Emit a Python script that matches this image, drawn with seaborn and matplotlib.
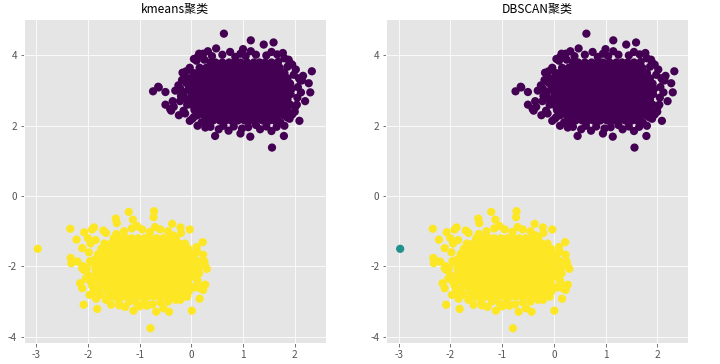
import numpy as np
import pandas as pd
import matplotlib
matplotlib.use("Agg")
import matplotlib.pyplot as plt
import seaborn as sns

# ---- data ----
# upper blob: rows of the dense core (y value, x values along the row)
top_rows_y = [2.15, 2.30, 2.45, 2.60, 2.75, 2.90, 3.05, 3.20, 3.35, 3.50, 3.65, 3.80]
top_rows_x = [
    [0.31, 0.42, 0.55, 0.66, 0.77, 0.90, 1.03, 1.14, 1.25, 1.38, 1.51, 1.61],
    [0.12, 0.25, 0.36, 0.47, 0.60, 0.73, 0.84, 0.95, 1.08, 1.21, 1.32, 1.43, 1.56, 1.69, 1.79],
    [0.06, 0.17, 0.30, 0.43, 0.54, 0.65, 0.78, 0.91, 1.02, 1.13, 1.26, 1.39, 1.50, 1.61, 1.74, 1.86],
    [0.00, 0.13, 0.24, 0.35, 0.48, 0.61, 0.72, 0.83, 0.96, 1.09, 1.20, 1.31, 1.44, 1.57, 1.68, 1.79, 1.91],
    [-0.04, 0.07, 0.18, 0.31, 0.42, 0.53, 0.66, 0.79, 0.90, 1.01, 1.14, 1.27, 1.38, 1.49, 1.62, 1.75, 1.86],
    [0.01, 0.12, 0.23, 0.36, 0.49, 0.60, 0.71, 0.84, 0.97, 1.08, 1.19, 1.32, 1.45, 1.56, 1.67, 1.80, 1.92],
    [-0.05, 0.06, 0.19, 0.30, 0.41, 0.54, 0.67, 0.78, 0.89, 1.02, 1.15, 1.26, 1.37, 1.50, 1.63, 1.74, 1.85, 1.94],
    [0.00, 0.11, 0.24, 0.37, 0.48, 0.59, 0.72, 0.85, 0.96, 1.07, 1.20, 1.33, 1.44, 1.55, 1.68, 1.81, 1.91],
    [-0.02, 0.07, 0.18, 0.29, 0.42, 0.55, 0.66, 0.77, 0.90, 1.03, 1.14, 1.25, 1.38, 1.51, 1.62, 1.73, 1.86],
    [0.04, 0.12, 0.25, 0.36, 0.47, 0.60, 0.73, 0.84, 0.95, 1.08, 1.21, 1.32, 1.43, 1.56, 1.69, 1.80],
    [0.16, 0.29, 0.42, 0.55, 0.66, 0.77, 0.90, 1.03, 1.14, 1.25, 1.38, 1.51, 1.62, 1.71],
    [0.37, 0.47, 0.60, 0.73, 0.84, 0.95, 1.08, 1.21, 1.32, 1.43, 1.55],
]
# upper blob: scattered points around the core
top_edge_x = [0.63, 1.15, 1.59, 1.40, 0.48, 0.15, 0.23, 1.77, 1.66, 1.95, 2.33, -0.17, -0.13,
              2.11, 2.27, 2.30, -0.64, -0.74, -0.50, -0.31, -0.21, -0.50, -0.39, -0.34, -0.15,
              -0.03, 2.09, 2.01, 1.85, 0.27, 0.37, 0.46, 0.53, 0.72, 0.95, 1.14, 1.33, 1.79,
              1.56, 1.66, -0.12, -0.10, 2.05, 2.06, 0.10, 1.86, 0.12, 1.80, 0.60, 0.95, 1.25,
              1.05, 0.40, 0.82, 1.10, 1.45, 1.55, 2.14, -0.63, -0.41,
              0.75, 1.15, 1.45, 0.85, 1.55, 0.05, 1.88, 0.32, 1.00, -0.03, 0.12, 1.90, 1.80,
              2.02, 1.98, -0.14, -0.18, -0.08, -0.10, -0.22, -0.25, 2.04, 2.08, 2.00, 2.12,
              0.62, 0.98, 1.25, 1.65, 0.20, 1.72, 1.90, 0.05, 0.25, 1.68,
              -0.24, -0.12, -0.20, 0.02, -0.36, 2.16, 2.20, 1.95]
top_edge_y = [4.62, 4.43, 4.37, 4.31, 4.20, 4.05, 4.05, 4.07, 4.03, 3.74, 3.55, 3.51, 3.41,
              3.29, 3.21, 2.95, 3.11, 2.98, 2.96, 3.00, 3.05, 2.60, 2.43, 2.54, 2.43,
              2.14, 2.14, 2.54, 2.24, 1.95, 1.97, 1.71, 1.90, 1.86, 1.78, 1.69, 1.90, 1.71,
              1.38, 2.09, 2.78, 3.22, 2.80, 3.10, 3.85, 3.68, 2.00, 2.00, 4.02, 4.05, 4.02,
              3.98, 3.98, 1.98, 1.96, 1.98, 1.85, 3.29, 3.09, 2.48,
              4.10, 4.12, 4.00, 3.96, 4.10, 3.90, 3.88, 4.12, 4.18, 3.65, 3.95, 3.80, 3.92,
              3.60, 3.45, 2.95, 3.30, 2.60, 3.55, 2.70, 3.15, 2.60, 3.35, 2.40, 2.95,
              2.00, 1.92, 2.02, 1.97, 2.10, 2.10, 2.20, 2.25, 3.88, 3.82,
              2.30, 2.35, 2.85, 2.20, 2.70, 3.42, 2.70, 2.32]

# lower blob: rows of the dense core
bottom_rows_y = [-1.20, -1.35, -1.50, -1.65, -1.80, -1.95, -2.10, -2.25, -2.40, -2.55, -2.70, -2.85]
bottom_rows_x = [
    [-1.50, -1.37, -1.26, -1.15, -1.02, -0.89, -0.78, -0.67, -0.54, -0.41, -0.30],
    [-1.68, -1.55, -1.44, -1.33, -1.20, -1.07, -0.96, -0.85, -0.72, -0.59, -0.48, -0.37, -0.24, -0.12],
    [-1.74, -1.63, -1.50, -1.37, -1.26, -1.15, -1.02, -0.89, -0.78, -0.67, -0.54, -0.41, -0.30, -0.19, -0.06],
    [-1.80, -1.67, -1.56, -1.45, -1.32, -1.19, -1.08, -0.97, -0.84, -0.71, -0.60, -0.49, -0.36, -0.23, -0.12, 0.00],
    [-1.86, -1.73, -1.62, -1.51, -1.38, -1.25, -1.14, -1.03, -0.90, -0.77, -0.66, -0.55, -0.42, -0.29, -0.18, -0.07, 0.03],
    [-1.87, -1.80, -1.69, -1.56, -1.43, -1.32, -1.21, -1.08, -0.95, -0.84, -0.73, -0.60, -0.47, -0.36, -0.25, -0.12, 0.00],
    [-1.85, -1.74, -1.63, -1.50, -1.37, -1.26, -1.15, -1.02, -0.89, -0.78, -0.67, -0.54, -0.41, -0.30, -0.19, -0.06, 0.03],
    [-1.86, -1.79, -1.68, -1.57, -1.44, -1.31, -1.20, -1.09, -0.96, -0.83, -0.72, -0.61, -0.48, -0.35, -0.24, -0.13, 0.00],
    [-1.83, -1.74, -1.61, -1.50, -1.39, -1.26, -1.13, -1.02, -0.91, -0.78, -0.65, -0.54, -0.43, -0.30, -0.17, -0.06],
    [-1.68, -1.57, -1.44, -1.31, -1.20, -1.09, -0.96, -0.83, -0.72, -0.61, -0.48, -0.35, -0.24, -0.13, -0.03],
    [-1.62, -1.49, -1.38, -1.27, -1.14, -1.01, -0.90, -0.79, -0.66, -0.53, -0.42, -0.31, -0.18, -0.10],
    [-1.44, -1.31, -1.20, -1.09, -0.96, -0.83, -0.72, -0.61, -0.48, -0.38],
]
# lower blob: scattered points around the core
bottom_edge_x = [-2.34, -2.22, -2.07, -1.92, -1.88, -2.11, -2.33, -2.32, -2.20, -2.11, -2.15,
                 -2.11, -1.95, -2.08, -1.97, -1.82, -1.55, -1.39, -1.12, -1.00, -0.79, -0.68,
                 -0.43, -0.54, -0.21, -0.08, 0.01, 0.16, 0.21, 0.27, 0.23, 0.30, 0.26, 0.25,
                 0.23, 0.22, 0.11, -0.03, -0.21, -0.37, -0.72, -0.73, -1.21, -1.46, -1.44,
                 -1.13, -2.10, -2.08, 0.08, 0.17, -1.98, -2.00, -1.95, -1.65, -0.20, 0.15,
                 0.12, -0.15, -1.20, -0.90, -0.60, -1.65, -0.95, -1.05, -0.60, -1.70, -1.78,
                 -1.90, -1.58,
                 -1.30, -0.80, -0.45, -1.15, -0.70, -1.45, -0.35, -1.96, -2.02, -1.92, -1.85,
                 0.10, 0.12, 0.14, 0.08, 0.06, -1.40, -1.05, -0.75, -0.45, -0.30, -1.75, -0.05,
                 -1.52, -0.28,
                 -2.04, -1.88, -2.00, -1.84, -0.86, -1.28]
bottom_edge_y = [-0.93, -1.24, -1.03, -0.95, -0.89, -1.48, -1.76, -1.91, -1.86, -2.05, -2.48,
                 -2.62, -2.43, -3.09, -2.81, -3.21, -3.09, -3.11, -3.26, -3.14, -3.76, -3.29,
                 -3.29, -3.19, -2.95, -2.86, -3.26, -2.92, -2.57, -2.52, -2.67, -2.07, -1.95, -1.86,
                 -1.67, -1.31, -1.57, -0.95, -0.89, -0.79, -0.43, -0.60, -0.45, -0.64, -0.77,
                 -0.67, -1.99, -2.10, -1.62, -2.62, -1.60, -2.25, -1.35, -1.05, -1.05, -2.20,
                 -2.40, -2.85, -3.00, -3.02, -3.02, -2.95, -0.95, -0.85, -0.95, -0.98, -2.62,
                 -2.75, -2.85,
                 -1.00, -1.02, -1.00, -0.92, -0.88, -1.08, -1.12, -1.85, -2.05, -2.55, -1.25,
                 -1.45, -1.85, -2.05, -2.30, -2.60, -2.98, -3.05, -3.08, -3.00, -2.95, -2.80, -2.72,
                 -2.86, -2.84,
                 -2.35, -2.68, -1.20, -2.92, -3.12, -3.15]

# the lone point on the far left
outlier_x = [-2.97]
outlier_y = [-1.50]


def flatten_rows(rows_y, rows_x):
    xs, ys = [], []
    for y, row in zip(rows_y, rows_x):
        xs += row
        ys += [y] * len(row)
    return xs, ys


tx, ty = flatten_rows(top_rows_y, top_rows_x)
tx += top_edge_x
ty += top_edge_y
bx, by = flatten_rows(bottom_rows_y, bottom_rows_x)
bx += bottom_edge_x
by += bottom_edge_y

df = pd.DataFrame({
    'x': tx + bx + outlier_x,
    'y': ty + by + outlier_y,
    'group': ['top'] * len(tx) + ['bottom'] * len(bx) + ['outlier'],
})
# kmeans puts the outlier with the lower blob, DBSCAN marks it as noise
df['kmeans'] = df['group'].map({'top': 0, 'bottom': 1, 'outlier': 1})
df['dbscan'] = df['group'].map({'top': 0, 'outlier': 1, 'bottom': 2})

# colours like plt.scatter(c=labels) with viridis
cmap = matplotlib.colormaps['viridis']
pal_kmeans = {0: cmap(0.0), 1: cmap(1.0)}
pal_dbscan = {0: cmap(0.0), 1: cmap(0.5), 2: cmap(1.0)}

# ---- plot ----
plt.style.use('ggplot')
plt.rcParams['font.family'] = ['Noto Sans CJK SC', 'DejaVu Sans']
plt.rcParams['axes.unicode_minus'] = False

fig, axes = plt.subplots(1, 2, figsize=(10, 364 / 72), dpi=72)
fig.subplots_adjust(left=0.0333, right=0.9556, top=0.948, bottom=0.0577, wspace=0.202)

for ax, col, pal, title in zip(axes, ['kmeans', 'dbscan'], [pal_kmeans, pal_dbscan],
                               ['kmeans聚类', 'DBSCAN聚类']):
    sns.scatterplot(data=df, x='x', y='y', hue=col, palette=pal,
                    s=68, linewidth=0, alpha=1, legend=False, ax=ax)
    ax.set_title(title, fontsize=12, color='black')
    ax.set_xlabel('')
    ax.set_ylabel('')
    ax.tick_params(labelsize=10, colors='#555555')

fig.savefig('out.png', dpi=72)
